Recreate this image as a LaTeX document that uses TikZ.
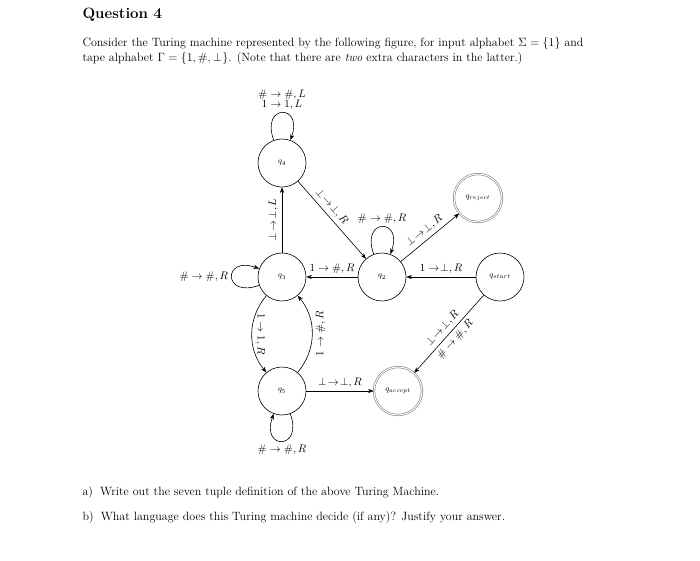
\documentclass[tikz,border=0pt]{standalone}
\usepackage{amssymb}
\usetikzlibrary{arrows.meta}
\begin{document}
\begin{tikzpicture}[x=1pt,y=-1pt,
  st/.style={circle,draw,line width=0.6pt,minimum size=48pt,inner sep=0pt,font=\footnotesize},
  fin/.style={st,draw=gray,double=white,double distance=1pt},
  tr/.style={->,>=Stealth,line width=0.6pt},
  lb/.style={font=\fontsize{11}{12}\selectfont},
  tx/.style={anchor=west,font=\fontsize{12}{14}\selectfont}]
\useasboundingbox (0,0) rectangle (700,560);
\node[anchor=west,font=\fontsize{15}{17}\selectfont\bfseries] (title) at (79,15) {Question 4};
\node[tx] (l1) at (79,43) {Consider the Turing machine represented by the following figure, for input alphabet $\Sigma=\{1\}$ and};
\node[tx] (l2) at (79,59) {tape alphabet $\Gamma=\{1,\#,\bot\}$. (Note that there are \emph{two} extra characters in the latter.)};
\node[tx] (qa) at (79,492) {a)\; Write out the seven tuple definition of the above Turing Machine.};
\node[tx] (qb) at (79,517) {b)\; What language does this Turing machine decide (if any)? Justify your answer.};

\node[st] (q4) at (282,163) {$q_4$};
\node[st] (q3) at (282,277) {$q_3$};
\node[st] (q5) at (282,391) {$q_5$};
\node[st] (q2) at (382,277) {$q_2$};
\node[st] (qs) at (500,277) {$q_{start}$};
\node[fin] (qr) at (478,198) {$q_{reject}$};
\node[fin] (qacc) at (398,391) {$q_{accept}$};

\draw[tr] (q4) to[out=110,in=70,looseness=6] node[lb,above,align=center]{$\#\rightarrow\#,L$\\[-2pt]$1\rightarrow1,L$} (q4);
\draw[tr] (q2) to[out=110,in=70,looseness=6] node[lb,above]{$\#\rightarrow\#,R$} (q2);
\draw[tr] (q3) to[out=200,in=160,looseness=6] node[lb,left]{$\#\rightarrow\#,R$} (q3);
\draw[tr] (q5) to[out=-70,in=-110,looseness=6] node[lb,below]{$\#\rightarrow\#,R$} (q5);

\draw[tr] (q3) -- node[lb,rotate=90,above]{$\bot\!\rightarrow\!\bot,L$} (q4);
\draw[tr] (q4) -- node[lb,sloped,above,pos=0.4]{$\bot\!\rightarrow\!\bot,R$} (q2);
\draw[tr] (q2) -- node[lb,above]{$1\rightarrow\#,R$} (q3);
\draw[tr] (qs) -- node[lb,above]{$1\rightarrow\!\bot,R$} (q2);
\draw[tr] (q2) -- node[lb,sloped,above]{$\bot\!\rightarrow\!\bot,R$} (qr);
\draw[tr] (q3) to[bend right=40] node[lb,rotate=-90,above]{$1\rightarrow1,R$} (q5);
\draw[tr] (q5) to[bend right=40] node[lb,rotate=90,below]{$1\rightarrow\#,R$} (q3);
\draw[tr] (q5) -- node[lb,above]{$\bot\!\rightarrow\!\bot,R$} (qacc);
\draw[tr] (qs) -- node[lb,sloped,above]{$\bot\!\rightarrow\!\bot,R$} node[lb,sloped,below]{$\#\rightarrow\#,R$} (qacc);
\end{tikzpicture}
\end{document}
